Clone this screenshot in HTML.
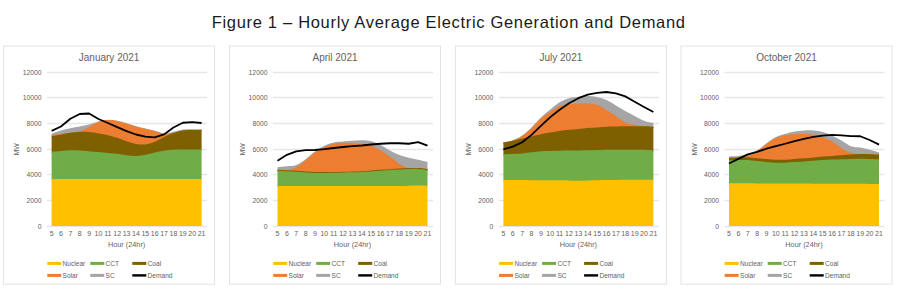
<!DOCTYPE html><html><head><meta charset="utf-8"><title>Figure 1</title><style>html,body{margin:0;padding:0;background:#fff;width:900px;height:300px;overflow:hidden}svg{display:block}text{font-family:"Liberation Sans", sans-serif}</style></head><body>
<svg width="900" height="300" viewBox="0 0 900 300">
<text x="448.7" y="27.8" font-size="16.5" letter-spacing="0.69" fill="#1a1a1a" text-anchor="middle">Figure 1 – Hourly Average Electric Generation and Demand</text>
<g>
<rect x="3.6" y="46" width="211" height="238.2" fill="#fff" stroke="#E3E3E3" stroke-width="1"/>
<text x="109.1" y="60.7" font-size="10" fill="#5f5f5f" text-anchor="middle">January 2021</text>
<line x1="47.1" y1="226.5" x2="207.1" y2="226.5" stroke="#E6E6E6" stroke-width="1.5"/>
<text x="41.6" y="228.6" font-size="6.8" fill="#5f5f5f" text-anchor="end">0</text>
<line x1="47.1" y1="200.5" x2="207.1" y2="200.5" stroke="#E6E6E6" stroke-width="1.5"/>
<text x="41.6" y="202.6" font-size="6.8" fill="#5f5f5f" text-anchor="end">2000</text>
<line x1="47.1" y1="174.5" x2="207.1" y2="174.5" stroke="#E6E6E6" stroke-width="1.5"/>
<text x="41.6" y="176.6" font-size="6.8" fill="#5f5f5f" text-anchor="end">4000</text>
<line x1="47.1" y1="149.5" x2="207.1" y2="149.5" stroke="#E6E6E6" stroke-width="1.5"/>
<text x="41.6" y="151.6" font-size="6.8" fill="#5f5f5f" text-anchor="end">6000</text>
<line x1="47.1" y1="123.5" x2="207.1" y2="123.5" stroke="#E6E6E6" stroke-width="1.5"/>
<text x="41.6" y="125.6" font-size="6.8" fill="#5f5f5f" text-anchor="end">8000</text>
<line x1="47.1" y1="97.5" x2="207.1" y2="97.5" stroke="#E6E6E6" stroke-width="1.5"/>
<text x="41.6" y="99.6" font-size="6.8" fill="#5f5f5f" text-anchor="end">10000</text>
<line x1="47.1" y1="72.5" x2="207.1" y2="72.5" stroke="#E6E6E6" stroke-width="1.5"/>
<text x="41.6" y="74.6" font-size="6.8" fill="#5f5f5f" text-anchor="end">12000</text>
<path d="M51.6,133.9 C53.16,133.34 57.85,131.51 60.98,130.57 C64.1,129.63 67.22,128.95 70.35,128.27 C73.47,127.59 76.6,127.1 79.72,126.48 C82.85,125.86 85.97,125.39 89.1,124.56 C92.22,123.73 95.35,122.29 98.47,121.49 C101.6,120.69 104.72,119.87 107.85,119.75 C110.97,119.63 114.1,120.17 117.22,120.75 C120.35,121.33 123.47,122.33 126.6,123.24 C129.72,124.16 132.85,125.37 135.97,126.25 C139.1,127.13 142.22,127.76 145.35,128.52 C148.47,129.29 151.6,130.02 154.72,130.83 C157.85,131.64 160.97,133.22 164.1,133.39 C167.22,133.56 170.35,132.49 173.47,131.85 C176.6,131.21 179.72,130 182.85,129.55 C185.97,129.1 189.1,129.21 192.22,129.16 C195.35,129.12 200.04,129.27 201.6,129.29 L201.6,131.23 C200.04,131.23 195.35,131.15 192.22,131.23 C189.1,131.32 185.97,131.27 182.85,131.76 C179.72,132.25 176.6,133.63 173.47,134.19 C170.35,134.75 167.22,135.42 164.1,135.1 C160.97,134.78 157.85,133.14 154.72,132.28 C151.6,131.43 148.47,130.74 145.35,129.98 C142.22,129.22 139.1,128.58 135.97,127.7 C132.85,126.82 129.72,125.61 126.6,124.7 C123.47,123.78 120.35,122.79 117.22,122.2 C114.1,121.62 110.97,121.04 107.85,121.21 C104.72,121.37 101.6,122.03 98.47,123.2 C95.35,124.37 92.22,126.6 89.1,128.2 C85.97,129.8 82.85,131.85 79.72,132.8 C76.6,133.74 73.47,133.44 70.35,133.84 C67.22,134.25 64.1,134.79 60.98,135.23 C57.85,135.66 53.16,136.24 51.6,136.44 Z" fill="#A5A5A5"/>
<path d="M51.6,135.24 C53.16,135.04 57.85,134.46 60.98,134.03 C64.1,133.59 67.22,133.05 70.35,132.64 C73.47,132.24 76.6,132.54 79.72,131.6 C82.85,130.65 85.97,128.6 89.1,127 C92.22,125.4 95.35,123.17 98.47,122 C101.6,120.83 104.72,120.17 107.85,120.01 C110.97,119.84 114.1,120.42 117.22,121 C120.35,121.59 123.47,122.58 126.6,123.5 C129.72,124.41 132.85,125.62 135.97,126.5 C139.1,127.38 142.22,128.02 145.35,128.78 C148.47,129.54 151.6,130.23 154.72,131.08 C157.85,131.94 160.97,133.58 164.1,133.9 C167.22,134.22 170.35,133.55 173.47,132.99 C176.6,132.43 179.72,131.05 182.85,130.56 C185.97,130.07 189.1,130.12 192.22,130.03 C195.35,129.95 200.04,130.03 201.6,130.03 L201.6,131.23 C200.04,131.23 195.35,131.15 192.22,131.23 C189.1,131.32 185.97,131.27 182.85,131.76 C179.72,132.25 176.6,133.12 173.47,134.19 C170.35,135.26 167.22,136.72 164.1,138.17 C160.97,139.61 157.85,141.62 154.72,142.86 C151.6,144.11 148.47,145.26 145.35,145.64 C142.22,146.01 139.1,145.63 135.97,145.11 C132.85,144.59 129.72,143.53 126.6,142.52 C123.47,141.5 120.35,140.05 117.22,139.04 C114.1,138.02 110.97,137.16 107.85,136.44 C104.72,135.72 101.6,135.23 98.47,134.71 C95.35,134.19 92.22,133.61 89.1,133.32 C85.97,133.03 82.85,132.85 79.72,132.97 C76.6,133.1 73.47,133.61 70.35,134.07 C67.22,134.53 64.1,135.18 60.98,135.74 C57.85,136.29 53.16,137.12 51.6,137.4 Z" fill="#ED7D31"/>
<path d="M51.6,136.2 C53.16,135.92 57.85,135.09 60.98,134.54 C64.1,133.98 67.22,133.33 70.35,132.87 C73.47,132.41 76.6,131.9 79.72,131.77 C82.85,131.65 85.97,131.83 89.1,132.12 C92.22,132.41 95.35,132.99 98.47,133.51 C101.6,134.03 104.72,134.52 107.85,135.24 C110.97,135.96 114.1,136.82 117.22,137.84 C120.35,138.85 123.47,140.3 126.6,141.32 C129.72,142.33 132.85,143.39 135.97,143.91 C139.1,144.43 142.22,144.81 145.35,144.44 C148.47,144.06 151.6,142.91 154.72,141.66 C157.85,140.42 160.97,138.41 164.1,136.97 C167.22,135.52 170.35,134.06 173.47,132.99 C176.6,131.92 179.72,131.05 182.85,130.56 C185.97,130.07 189.1,130.12 192.22,130.03 C195.35,129.95 200.04,130.03 201.6,130.03 L201.6,150.67 C200.04,150.67 195.35,150.67 192.22,150.67 C189.1,150.67 185.97,150.61 182.85,150.67 C179.72,150.72 176.6,150.81 173.47,151.01 C170.35,151.21 167.22,151.45 164.1,151.88 C160.97,152.31 157.85,152.94 154.72,153.61 C151.6,154.27 148.47,155.29 145.35,155.87 C142.22,156.45 139.1,157 135.97,157.09 C132.85,157.17 129.72,156.73 126.6,156.38 C123.47,156.04 120.35,155.37 117.22,155 C114.1,154.63 110.97,154.45 107.85,154.16 C104.72,153.87 101.6,153.56 98.47,153.26 C95.35,152.96 92.22,152.62 89.1,152.37 C85.97,152.11 82.85,151.87 79.72,151.73 C76.6,151.59 73.47,151.45 70.35,151.54 C67.22,151.62 64.1,152.01 60.98,152.24 C57.85,152.47 53.16,152.8 51.6,152.92 Z" fill="#7F6000"/>
<path d="M51.6,151.72 C53.16,151.6 57.85,151.27 60.98,151.04 C64.1,150.81 67.22,150.42 70.35,150.34 C73.47,150.25 76.6,150.39 79.72,150.53 C82.85,150.67 85.97,150.91 89.1,151.17 C92.22,151.42 95.35,151.76 98.47,152.06 C101.6,152.36 104.72,152.67 107.85,152.96 C110.97,153.25 114.1,153.43 117.22,153.8 C120.35,154.17 123.47,154.84 126.6,155.18 C129.72,155.53 132.85,155.97 135.97,155.89 C139.1,155.8 142.22,155.25 145.35,154.67 C148.47,154.09 151.6,153.07 154.72,152.41 C157.85,151.74 160.97,151.11 164.1,150.68 C167.22,150.25 170.35,150.01 173.47,149.81 C176.6,149.61 179.72,149.52 182.85,149.47 C185.97,149.41 189.1,149.47 192.22,149.47 C195.35,149.47 200.04,149.47 201.6,149.47 L201.6,180.13 C200.04,180.13 195.35,180.13 192.22,180.13 C189.1,180.13 185.97,180.13 182.85,180.13 C179.72,180.13 176.6,180.13 173.47,180.13 C170.35,180.13 167.22,180.13 164.1,180.13 C160.97,180.13 157.85,180.13 154.72,180.13 C151.6,180.13 148.47,180.13 145.35,180.13 C142.22,180.13 139.1,180.13 135.97,180.13 C132.85,180.13 129.72,180.13 126.6,180.13 C123.47,180.13 120.35,180.13 117.22,180.13 C114.1,180.13 110.97,180.13 107.85,180.13 C104.72,180.13 101.6,180.13 98.47,180.13 C95.35,180.13 92.22,180.13 89.1,180.13 C85.97,180.13 82.85,180.13 79.72,180.13 C76.6,180.13 73.47,180.13 70.35,180.13 C67.22,180.13 64.1,180.13 60.98,180.13 C57.85,180.13 53.16,180.13 51.6,180.13 Z" fill="#70AD47"/>
<path d="M51.6,178.93 C53.16,178.93 57.85,178.93 60.98,178.93 C64.1,178.93 67.22,178.93 70.35,178.93 C73.47,178.93 76.6,178.93 79.72,178.93 C82.85,178.93 85.97,178.93 89.1,178.93 C92.22,178.93 95.35,178.93 98.47,178.93 C101.6,178.93 104.72,178.93 107.85,178.93 C110.97,178.93 114.1,178.93 117.22,178.93 C120.35,178.93 123.47,178.93 126.6,178.93 C129.72,178.93 132.85,178.93 135.97,178.93 C139.1,178.93 142.22,178.93 145.35,178.93 C148.47,178.93 151.6,178.93 154.72,178.93 C157.85,178.93 160.97,178.93 164.1,178.93 C167.22,178.93 170.35,178.93 173.47,178.93 C176.6,178.93 179.72,178.93 182.85,178.93 C185.97,178.93 189.1,178.93 192.22,178.93 C195.35,178.93 200.04,178.93 201.6,178.93 L201.6,226 L51.6,226 Z" fill="#FFC000"/>
<polyline points="51.6,130.83 60.98,126.48 70.35,118.8 79.72,114.01 89.1,113.49 98.47,119.01 107.85,123 117.22,127.19 126.6,131.2 135.97,134.5 145.35,136.62 154.72,137.33 164.1,134.37 173.47,127.44 182.85,122.76 192.22,122.13 201.6,123.02" fill="none" stroke="#000" stroke-width="1.8" stroke-linejoin="round"/>
<text x="51.6" y="235.8" font-size="7" fill="#5f5f5f" text-anchor="middle">5</text>
<text x="60.98" y="235.8" font-size="7" fill="#5f5f5f" text-anchor="middle">6</text>
<text x="70.35" y="235.8" font-size="7" fill="#5f5f5f" text-anchor="middle">7</text>
<text x="79.72" y="235.8" font-size="7" fill="#5f5f5f" text-anchor="middle">8</text>
<text x="89.1" y="235.8" font-size="7" fill="#5f5f5f" text-anchor="middle">9</text>
<text x="98.47" y="235.8" font-size="7" fill="#5f5f5f" text-anchor="middle">10</text>
<text x="107.85" y="235.8" font-size="7" fill="#5f5f5f" text-anchor="middle">11</text>
<text x="117.22" y="235.8" font-size="7" fill="#5f5f5f" text-anchor="middle">12</text>
<text x="126.6" y="235.8" font-size="7" fill="#5f5f5f" text-anchor="middle">13</text>
<text x="135.97" y="235.8" font-size="7" fill="#5f5f5f" text-anchor="middle">14</text>
<text x="145.35" y="235.8" font-size="7" fill="#5f5f5f" text-anchor="middle">15</text>
<text x="154.72" y="235.8" font-size="7" fill="#5f5f5f" text-anchor="middle">16</text>
<text x="164.1" y="235.8" font-size="7" fill="#5f5f5f" text-anchor="middle">17</text>
<text x="173.47" y="235.8" font-size="7" fill="#5f5f5f" text-anchor="middle">18</text>
<text x="182.85" y="235.8" font-size="7" fill="#5f5f5f" text-anchor="middle">19</text>
<text x="192.22" y="235.8" font-size="7" fill="#5f5f5f" text-anchor="middle">20</text>
<text x="201.6" y="235.8" font-size="7" fill="#5f5f5f" text-anchor="middle">21</text>
<text x="126.6" y="246.8" font-size="7.3" fill="#5f5f5f" text-anchor="middle">Hour (24hr)</text>
<text transform="translate(16.8,149.4) rotate(-90)" font-size="6.9" fill="#5f5f5f" text-anchor="middle" dy="2.6">MW</text>
<rect x="47.3" y="261.9" width="14" height="3" fill="#FFC000"/>
<text x="62.6" y="265.65" font-size="6.6" fill="#5f5f5f">Nuclear</text>
<rect x="90.3" y="261.9" width="14" height="3" fill="#70AD47"/>
<text x="105.6" y="265.65" font-size="6.6" fill="#5f5f5f">CCT</text>
<rect x="132.3" y="261.9" width="14" height="3" fill="#7F6000"/>
<text x="147.6" y="265.65" font-size="6.6" fill="#5f5f5f">Coal</text>
<rect x="47.3" y="273.9" width="14" height="3" fill="#ED7D31"/>
<text x="62.6" y="277.65" font-size="6.6" fill="#5f5f5f">Solar</text>
<rect x="90.3" y="273.9" width="14" height="3" fill="#A5A5A5"/>
<text x="105.6" y="277.65" font-size="6.6" fill="#5f5f5f">SC</text>
<rect x="132.3" y="274.2" width="14" height="2.4" fill="#000000"/>
<text x="147.6" y="277.65" font-size="6.6" fill="#5f5f5f">Demand</text>
</g>
<g>
<rect x="229.5" y="46" width="211" height="238.2" fill="#fff" stroke="#E3E3E3" stroke-width="1"/>
<text x="335" y="60.7" font-size="10" fill="#5f5f5f" text-anchor="middle">April 2021</text>
<line x1="273" y1="226.5" x2="433" y2="226.5" stroke="#E6E6E6" stroke-width="1.5"/>
<text x="267.5" y="228.6" font-size="6.8" fill="#5f5f5f" text-anchor="end">0</text>
<line x1="273" y1="200.5" x2="433" y2="200.5" stroke="#E6E6E6" stroke-width="1.5"/>
<text x="267.5" y="202.6" font-size="6.8" fill="#5f5f5f" text-anchor="end">2000</text>
<line x1="273" y1="174.5" x2="433" y2="174.5" stroke="#E6E6E6" stroke-width="1.5"/>
<text x="267.5" y="176.6" font-size="6.8" fill="#5f5f5f" text-anchor="end">4000</text>
<line x1="273" y1="149.5" x2="433" y2="149.5" stroke="#E6E6E6" stroke-width="1.5"/>
<text x="267.5" y="151.6" font-size="6.8" fill="#5f5f5f" text-anchor="end">6000</text>
<line x1="273" y1="123.5" x2="433" y2="123.5" stroke="#E6E6E6" stroke-width="1.5"/>
<text x="267.5" y="125.6" font-size="6.8" fill="#5f5f5f" text-anchor="end">8000</text>
<line x1="273" y1="97.5" x2="433" y2="97.5" stroke="#E6E6E6" stroke-width="1.5"/>
<text x="267.5" y="99.6" font-size="6.8" fill="#5f5f5f" text-anchor="end">10000</text>
<line x1="273" y1="72.5" x2="433" y2="72.5" stroke="#E6E6E6" stroke-width="1.5"/>
<text x="267.5" y="74.6" font-size="6.8" fill="#5f5f5f" text-anchor="end">12000</text>
<path d="M277.5,167.2 C279.06,167.05 283.75,166.65 286.88,166.3 C290,165.95 293.12,166.29 296.25,165.11 C299.38,163.93 302.5,161.49 305.62,159.23 C308.75,156.97 311.88,153.81 315,151.55 C318.12,149.29 321.25,147.17 324.38,145.67 C327.5,144.16 330.62,143.2 333.75,142.51 C336.88,141.81 340,141.79 343.12,141.5 C346.25,141.2 349.38,140.94 352.5,140.74 C355.62,140.54 358.75,140.22 361.88,140.29 C365,140.37 368.12,140.4 371.25,141.19 C374.38,141.97 377.5,143.45 380.62,145 C383.75,146.55 386.88,148.83 390,150.5 C393.12,152.17 396.25,153.79 399.38,155 C402.5,156.22 405.62,156.99 408.75,157.79 C411.88,158.59 415,159.1 418.12,159.8 C421.25,160.5 425.94,161.63 427.5,162 L427.5,170.29 C425.94,170.12 421.25,169.42 418.12,169.25 C415,169.08 411.88,169.93 408.75,169.25 C405.62,168.58 402.5,167.12 399.38,165.2 C396.25,163.27 393.12,159.95 390,157.7 C386.88,155.45 383.75,153.54 380.62,151.7 C377.5,149.87 374.38,147.75 371.25,146.7 C368.12,145.65 365,145.77 361.88,145.4 C358.75,145.02 355.62,144.67 352.5,144.44 C349.38,144.2 346.25,143.91 343.12,144 C340,144.09 336.88,144.35 333.75,145 C330.62,145.65 327.5,146.43 324.38,147.89 C321.25,149.35 318.12,151.47 315,153.77 C311.88,156.08 308.75,159.27 305.62,161.7 C302.5,164.14 299.38,166.72 296.25,168.36 C293.12,169.99 290,171.07 286.88,171.5 C283.75,171.94 279.06,171.07 277.5,170.98 Z" fill="#A5A5A5"/>
<path d="M277.5,169.78 C279.06,169.87 283.75,170.74 286.88,170.3 C290,169.87 293.12,168.79 296.25,167.16 C299.38,165.52 302.5,162.94 305.62,160.5 C308.75,158.07 311.88,154.88 315,152.57 C318.12,150.27 321.25,148.15 324.38,146.69 C327.5,145.23 330.62,144.45 333.75,143.8 C336.88,143.15 340,142.89 343.12,142.8 C346.25,142.71 349.38,143 352.5,143.24 C355.62,143.47 358.75,143.82 361.88,144.2 C365,144.57 368.12,144.45 371.25,145.5 C374.38,146.55 377.5,148.67 380.62,150.5 C383.75,152.34 386.88,154.25 390,156.5 C393.12,158.75 396.25,162.07 399.38,164 C402.5,165.92 405.62,167.38 408.75,168.05 C411.88,168.73 415,167.88 418.12,168.05 C421.25,168.22 425.94,168.92 427.5,169.09 L427.5,170.29 C425.94,170.12 421.25,169.42 418.12,169.25 C415,169.08 411.88,169.17 408.75,169.25 C405.62,169.34 402.5,169.57 399.38,169.76 C396.25,169.96 393.12,170.2 390,170.4 C386.88,170.61 383.75,170.77 380.62,170.98 C377.5,171.19 374.38,171.45 371.25,171.68 C368.12,171.92 365,172.21 361.88,172.37 C358.75,172.53 355.62,172.55 352.5,172.64 C349.38,172.73 346.25,172.81 343.12,172.9 C340,172.98 336.88,173.1 333.75,173.15 C330.62,173.21 327.5,173.23 324.38,173.24 C321.25,173.26 318.12,173.33 315,173.24 C311.88,173.16 308.75,172.92 305.62,172.72 C302.5,172.52 299.38,172.27 296.25,172.07 C293.12,171.86 290,171.68 286.88,171.5 C283.75,171.32 279.06,171.07 277.5,170.98 Z" fill="#ED7D31"/>
<path d="M277.5,169.78 C279.06,169.87 283.75,170.12 286.88,170.3 C290,170.48 293.12,170.66 296.25,170.87 C299.38,171.07 302.5,171.32 305.62,171.52 C308.75,171.72 311.88,171.96 315,172.04 C318.12,172.13 321.25,172.06 324.38,172.04 C327.5,172.03 330.62,172.01 333.75,171.95 C336.88,171.9 340,171.78 343.12,171.7 C346.25,171.61 349.38,171.53 352.5,171.44 C355.62,171.35 358.75,171.33 361.88,171.17 C365,171.01 368.12,170.72 371.25,170.48 C374.38,170.25 377.5,169.99 380.62,169.78 C383.75,169.57 386.88,169.41 390,169.2 C393.12,169 396.25,168.76 399.38,168.56 C402.5,168.37 405.62,168.14 408.75,168.05 C411.88,167.97 415,167.88 418.12,168.05 C421.25,168.22 425.94,168.92 427.5,169.09 L427.5,171.18 C425.94,171.01 421.25,170.32 418.12,170.15 C415,169.97 411.88,170.06 408.75,170.15 C405.62,170.23 402.5,170.47 399.38,170.66 C396.25,170.85 393.12,171.1 390,171.3 C386.88,171.5 383.75,171.66 380.62,171.87 C377.5,172.09 374.38,172.35 371.25,172.58 C368.12,172.81 365,173.11 361.88,173.27 C358.75,173.43 355.62,173.45 352.5,173.54 C349.38,173.62 346.25,173.71 343.12,173.79 C340,173.88 336.88,173.99 333.75,174.05 C330.62,174.11 327.5,174.12 324.38,174.14 C321.25,174.15 318.12,174.23 315,174.14 C311.88,174.05 308.75,173.81 305.62,173.61 C302.5,173.42 299.38,173.16 296.25,172.96 C293.12,172.76 290,172.58 286.88,172.4 C283.75,172.22 279.06,171.96 277.5,171.87 Z" fill="#7F6000"/>
<path d="M277.5,170.67 C279.06,170.76 283.75,171.02 286.88,171.2 C290,171.38 293.12,171.56 296.25,171.76 C299.38,171.96 302.5,172.22 305.62,172.41 C308.75,172.61 311.88,172.85 315,172.94 C318.12,173.03 321.25,172.95 324.38,172.94 C327.5,172.92 330.62,172.91 333.75,172.85 C336.88,172.79 340,172.68 343.12,172.59 C346.25,172.51 349.38,172.42 352.5,172.34 C355.62,172.25 358.75,172.23 361.88,172.07 C365,171.91 368.12,171.61 371.25,171.38 C374.38,171.15 377.5,170.89 380.62,170.67 C383.75,170.46 386.88,170.3 390,170.1 C393.12,169.9 396.25,169.65 399.38,169.46 C402.5,169.27 405.62,169.03 408.75,168.95 C411.88,168.86 415,168.77 418.12,168.95 C421.25,169.12 425.94,169.81 427.5,169.98 L427.5,186.65 C425.94,186.65 421.25,186.61 418.12,186.65 C415,186.69 411.88,186.82 408.75,186.91 C405.62,186.99 402.5,187.12 399.38,187.16 C396.25,187.2 393.12,187.16 390,187.16 C386.88,187.16 383.75,187.16 380.62,187.16 C377.5,187.16 374.38,187.16 371.25,187.16 C368.12,187.16 365,187.16 361.88,187.16 C358.75,187.16 355.62,187.16 352.5,187.16 C349.38,187.16 346.25,187.16 343.12,187.16 C340,187.16 336.88,187.16 333.75,187.16 C330.62,187.16 327.5,187.16 324.38,187.16 C321.25,187.16 318.12,187.16 315,187.16 C311.88,187.16 308.75,187.16 305.62,187.16 C302.5,187.16 299.38,187.16 296.25,187.16 C293.12,187.16 290,187.16 286.88,187.16 C283.75,187.16 279.06,187.16 277.5,187.16 Z" fill="#70AD47"/>
<path d="M277.5,185.96 C279.06,185.96 283.75,185.96 286.88,185.96 C290,185.96 293.12,185.96 296.25,185.96 C299.38,185.96 302.5,185.96 305.62,185.96 C308.75,185.96 311.88,185.96 315,185.96 C318.12,185.96 321.25,185.96 324.38,185.96 C327.5,185.96 330.62,185.96 333.75,185.96 C336.88,185.96 340,185.96 343.12,185.96 C346.25,185.96 349.38,185.96 352.5,185.96 C355.62,185.96 358.75,185.96 361.88,185.96 C365,185.96 368.12,185.96 371.25,185.96 C374.38,185.96 377.5,185.96 380.62,185.96 C383.75,185.96 386.88,185.96 390,185.96 C393.12,185.96 396.25,186 399.38,185.96 C402.5,185.92 405.62,185.79 408.75,185.71 C411.88,185.62 415,185.49 418.12,185.45 C421.25,185.41 425.94,185.45 427.5,185.45 L427.5,226 L277.5,226 Z" fill="#FFC000"/>
<polyline points="277.5,160.8 286.88,154.8 296.25,151.29 305.62,150.19 315,150 324.38,149.2 333.75,147.99 343.12,147 352.5,146.18 361.88,145.5 371.25,144.5 380.62,143.75 390,143.24 399.38,143.24 408.75,143.75 418.12,142.08 427.5,145.67" fill="none" stroke="#000" stroke-width="1.8" stroke-linejoin="round"/>
<text x="277.5" y="235.8" font-size="7" fill="#5f5f5f" text-anchor="middle">5</text>
<text x="286.88" y="235.8" font-size="7" fill="#5f5f5f" text-anchor="middle">6</text>
<text x="296.25" y="235.8" font-size="7" fill="#5f5f5f" text-anchor="middle">7</text>
<text x="305.62" y="235.8" font-size="7" fill="#5f5f5f" text-anchor="middle">8</text>
<text x="315" y="235.8" font-size="7" fill="#5f5f5f" text-anchor="middle">9</text>
<text x="324.38" y="235.8" font-size="7" fill="#5f5f5f" text-anchor="middle">10</text>
<text x="333.75" y="235.8" font-size="7" fill="#5f5f5f" text-anchor="middle">11</text>
<text x="343.12" y="235.8" font-size="7" fill="#5f5f5f" text-anchor="middle">12</text>
<text x="352.5" y="235.8" font-size="7" fill="#5f5f5f" text-anchor="middle">13</text>
<text x="361.88" y="235.8" font-size="7" fill="#5f5f5f" text-anchor="middle">14</text>
<text x="371.25" y="235.8" font-size="7" fill="#5f5f5f" text-anchor="middle">15</text>
<text x="380.62" y="235.8" font-size="7" fill="#5f5f5f" text-anchor="middle">16</text>
<text x="390" y="235.8" font-size="7" fill="#5f5f5f" text-anchor="middle">17</text>
<text x="399.38" y="235.8" font-size="7" fill="#5f5f5f" text-anchor="middle">18</text>
<text x="408.75" y="235.8" font-size="7" fill="#5f5f5f" text-anchor="middle">19</text>
<text x="418.12" y="235.8" font-size="7" fill="#5f5f5f" text-anchor="middle">20</text>
<text x="427.5" y="235.8" font-size="7" fill="#5f5f5f" text-anchor="middle">21</text>
<text x="352.5" y="246.8" font-size="7.3" fill="#5f5f5f" text-anchor="middle">Hour (24hr)</text>
<text transform="translate(242.7,149.4) rotate(-90)" font-size="6.9" fill="#5f5f5f" text-anchor="middle" dy="2.6">MW</text>
<rect x="273.2" y="261.9" width="14" height="3" fill="#FFC000"/>
<text x="288.5" y="265.65" font-size="6.6" fill="#5f5f5f">Nuclear</text>
<rect x="316.2" y="261.9" width="14" height="3" fill="#70AD47"/>
<text x="331.5" y="265.65" font-size="6.6" fill="#5f5f5f">CCT</text>
<rect x="358.2" y="261.9" width="14" height="3" fill="#7F6000"/>
<text x="373.5" y="265.65" font-size="6.6" fill="#5f5f5f">Coal</text>
<rect x="273.2" y="273.9" width="14" height="3" fill="#ED7D31"/>
<text x="288.5" y="277.65" font-size="6.6" fill="#5f5f5f">Solar</text>
<rect x="316.2" y="273.9" width="14" height="3" fill="#A5A5A5"/>
<text x="331.5" y="277.65" font-size="6.6" fill="#5f5f5f">SC</text>
<rect x="358.2" y="274.2" width="14" height="2.4" fill="#000000"/>
<text x="373.5" y="277.65" font-size="6.6" fill="#5f5f5f">Demand</text>
</g>
<g>
<rect x="455.4" y="46" width="211" height="238.2" fill="#fff" stroke="#E3E3E3" stroke-width="1"/>
<text x="560.9" y="60.7" font-size="10" fill="#5f5f5f" text-anchor="middle">July 2021</text>
<line x1="498.9" y1="226.5" x2="658.9" y2="226.5" stroke="#E6E6E6" stroke-width="1.5"/>
<text x="493.4" y="228.6" font-size="6.8" fill="#5f5f5f" text-anchor="end">0</text>
<line x1="498.9" y1="200.5" x2="658.9" y2="200.5" stroke="#E6E6E6" stroke-width="1.5"/>
<text x="493.4" y="202.6" font-size="6.8" fill="#5f5f5f" text-anchor="end">2000</text>
<line x1="498.9" y1="174.5" x2="658.9" y2="174.5" stroke="#E6E6E6" stroke-width="1.5"/>
<text x="493.4" y="176.6" font-size="6.8" fill="#5f5f5f" text-anchor="end">4000</text>
<line x1="498.9" y1="149.5" x2="658.9" y2="149.5" stroke="#E6E6E6" stroke-width="1.5"/>
<text x="493.4" y="151.6" font-size="6.8" fill="#5f5f5f" text-anchor="end">6000</text>
<line x1="498.9" y1="123.5" x2="658.9" y2="123.5" stroke="#E6E6E6" stroke-width="1.5"/>
<text x="493.4" y="125.6" font-size="6.8" fill="#5f5f5f" text-anchor="end">8000</text>
<line x1="498.9" y1="97.5" x2="658.9" y2="97.5" stroke="#E6E6E6" stroke-width="1.5"/>
<text x="493.4" y="99.6" font-size="6.8" fill="#5f5f5f" text-anchor="end">10000</text>
<line x1="498.9" y1="72.5" x2="658.9" y2="72.5" stroke="#E6E6E6" stroke-width="1.5"/>
<text x="493.4" y="74.6" font-size="6.8" fill="#5f5f5f" text-anchor="end">12000</text>
<path d="M503.4,142.08 C504.96,141.76 509.65,141.27 512.77,140.17 C515.9,139.06 519.02,137.54 522.15,135.43 C525.27,133.32 528.4,130.49 531.52,127.5 C534.65,124.52 537.77,120.52 540.9,117.52 C544.02,114.52 547.15,112.06 550.27,109.5 C553.4,106.95 556.52,104.08 559.65,102.2 C562.77,100.31 565.9,99.09 569.02,98.2 C572.15,97.3 575.27,97.17 578.4,96.8 C581.52,96.43 584.65,95.96 587.77,95.99 C590.9,96.03 594.02,96.33 597.15,96.99 C600.27,97.66 603.4,98.58 606.52,100 C609.65,101.42 612.77,103.67 615.9,105.5 C619.02,107.33 622.15,109.25 625.27,111 C628.4,112.75 631.52,114.37 634.65,116 C637.77,117.63 640.9,119.62 644.02,120.8 C647.15,121.98 651.84,122.69 653.4,123.06 L653.4,128.07 C651.84,127.99 647.15,127.9 644.02,127.55 C640.9,127.2 637.77,126.65 634.65,125.99 C631.52,125.33 628.4,125.05 625.27,123.58 C622.15,122.12 619.02,119.27 615.9,117.2 C612.77,115.14 609.65,113.07 606.52,111.2 C603.4,109.33 600.27,107.13 597.15,106 C594.02,104.86 590.9,104.61 587.77,104.4 C584.65,104.18 581.52,104.56 578.4,104.69 C575.27,104.83 572.15,104.78 569.02,105.2 C565.9,105.62 562.77,105.87 559.65,107.2 C556.52,108.53 553.4,111.11 550.27,113.2 C547.15,115.29 544.02,117.05 540.9,119.75 C537.77,122.45 534.65,126.51 531.52,129.41 C528.4,132.3 525.27,135.07 522.15,137.14 C519.02,139.21 515.9,140.72 512.77,141.83 C509.65,142.93 504.96,143.46 503.4,143.78 Z" fill="#A5A5A5"/>
<path d="M503.4,142.58 C504.96,142.26 509.65,141.73 512.77,140.63 C515.9,139.52 519.02,138.01 522.15,135.94 C525.27,133.87 528.4,131.1 531.52,128.21 C534.65,125.31 537.77,121.25 540.9,118.55 C544.02,115.85 547.15,114.09 550.27,112 C553.4,109.91 556.52,107.33 559.65,106 C562.77,104.67 565.9,104.42 569.02,104 C572.15,103.58 575.27,103.63 578.4,103.49 C581.52,103.36 584.65,102.98 587.77,103.2 C590.9,103.41 594.02,103.66 597.15,104.8 C600.27,105.93 603.4,108.13 606.52,110 C609.65,111.87 612.77,113.94 615.9,116 C619.02,118.07 622.15,120.92 625.27,122.38 C628.4,123.85 631.52,124.13 634.65,124.79 C637.77,125.45 640.9,126 644.02,126.35 C647.15,126.7 651.84,126.79 653.4,126.87 L653.4,128.07 C651.84,127.99 647.15,127.64 644.02,127.55 C640.9,127.46 637.77,127.55 634.65,127.55 C631.52,127.55 628.4,127.51 625.27,127.55 C622.15,127.59 619.02,127.72 615.9,127.81 C612.77,127.89 609.65,127.93 606.52,128.07 C603.4,128.22 600.27,128.5 597.15,128.7 C594.02,128.9 590.9,129.06 587.77,129.29 C584.65,129.52 581.52,129.82 578.4,130.11 C575.27,130.4 572.15,130.69 569.02,131.03 C565.9,131.37 562.77,131.69 559.65,132.16 C556.52,132.62 553.4,133.28 550.27,133.82 C547.15,134.36 544.02,134.81 540.9,135.4 C537.77,136 534.65,136.69 531.52,137.41 C528.4,138.14 525.27,139.03 522.15,139.77 C519.02,140.5 515.9,141.16 512.77,141.83 C509.65,142.5 504.96,143.46 503.4,143.78 Z" fill="#ED7D31"/>
<path d="M503.4,142.58 C504.96,142.26 509.65,141.3 512.77,140.63 C515.9,139.96 519.02,139.3 522.15,138.57 C525.27,137.83 528.4,136.94 531.52,136.21 C534.65,135.49 537.77,134.8 540.9,134.2 C544.02,133.61 547.15,133.16 550.27,132.62 C553.4,132.08 556.52,131.42 559.65,130.96 C562.77,130.49 565.9,130.17 569.02,129.83 C572.15,129.49 575.27,129.2 578.4,128.91 C581.52,128.62 584.65,128.32 587.77,128.09 C590.9,127.86 594.02,127.7 597.15,127.5 C600.27,127.3 603.4,127.02 606.52,126.87 C609.65,126.73 612.77,126.69 615.9,126.61 C619.02,126.52 622.15,126.39 625.27,126.35 C628.4,126.31 631.52,126.35 634.65,126.35 C637.77,126.35 640.9,126.26 644.02,126.35 C647.15,126.44 651.84,126.79 653.4,126.87 L653.4,151.64 C651.84,151.52 647.15,151.05 644.02,150.93 C640.9,150.82 637.77,150.93 634.65,150.93 C631.52,150.93 628.4,150.93 625.27,150.93 C622.15,150.93 619.02,150.93 615.9,150.93 C612.77,150.93 609.65,150.89 606.52,150.93 C603.4,150.98 600.27,151.13 597.15,151.22 C594.02,151.31 590.9,151.4 587.77,151.47 C584.65,151.54 581.52,151.6 578.4,151.64 C575.27,151.68 572.15,151.69 569.02,151.73 C565.9,151.76 562.77,151.79 559.65,151.86 C556.52,151.92 553.4,152.03 550.27,152.11 C547.15,152.19 544.02,152.09 540.9,152.33 C537.77,152.56 534.65,153.13 531.52,153.52 C528.4,153.91 525.27,154.39 522.15,154.67 C519.02,154.95 515.9,155.03 512.77,155.18 C509.65,155.34 504.96,155.53 503.4,155.6 Z" fill="#7F6000"/>
<path d="M503.4,154.4 C504.96,154.33 509.65,154.14 512.77,153.98 C515.9,153.83 519.02,153.75 522.15,153.47 C525.27,153.19 528.4,152.71 531.52,152.32 C534.65,151.93 537.77,151.36 540.9,151.13 C544.02,150.89 547.15,150.99 550.27,150.91 C553.4,150.83 556.52,150.72 559.65,150.66 C562.77,150.59 565.9,150.56 569.02,150.53 C572.15,150.49 575.27,150.48 578.4,150.44 C581.52,150.4 584.65,150.34 587.77,150.27 C590.9,150.2 594.02,150.11 597.15,150.02 C600.27,149.93 603.4,149.78 606.52,149.73 C609.65,149.69 612.77,149.73 615.9,149.73 C619.02,149.73 622.15,149.73 625.27,149.73 C628.4,149.73 631.52,149.73 634.65,149.73 C637.77,149.73 640.9,149.62 644.02,149.73 C647.15,149.85 651.84,150.32 653.4,150.44 L653.4,180.83 C651.84,180.83 647.15,180.82 644.02,180.83 C640.9,180.84 637.77,180.86 634.65,180.89 C631.52,180.92 628.4,180.98 625.27,181.02 C622.15,181.06 619.02,181.11 615.9,181.15 C612.77,181.19 609.65,181.23 606.52,181.28 C603.4,181.32 600.27,181.34 597.15,181.4 C594.02,181.47 590.9,181.56 587.77,181.66 C584.65,181.76 581.52,182.01 578.4,182.01 C575.27,182.01 572.15,181.74 569.02,181.66 C565.9,181.58 562.77,181.56 559.65,181.53 C556.52,181.5 553.4,181.49 550.27,181.47 C547.15,181.45 544.02,181.43 540.9,181.4 C537.77,181.38 534.65,181.36 531.52,181.34 C528.4,181.32 525.27,181.29 522.15,181.28 C519.02,181.27 515.9,181.28 512.77,181.28 C509.65,181.28 504.96,181.28 503.4,181.28 Z" fill="#70AD47"/>
<path d="M503.4,180.08 C504.96,180.08 509.65,180.08 512.77,180.08 C515.9,180.08 519.02,180.07 522.15,180.08 C525.27,180.09 528.4,180.12 531.52,180.14 C534.65,180.16 537.77,180.18 540.9,180.2 C544.02,180.23 547.15,180.25 550.27,180.27 C553.4,180.29 556.52,180.3 559.65,180.33 C562.77,180.36 565.9,180.38 569.02,180.46 C572.15,180.54 575.27,180.81 578.4,180.81 C581.52,180.81 584.65,180.56 587.77,180.46 C590.9,180.36 594.02,180.27 597.15,180.2 C600.27,180.14 603.4,180.12 606.52,180.08 C609.65,180.03 612.77,179.99 615.9,179.95 C619.02,179.91 622.15,179.86 625.27,179.82 C628.4,179.78 631.52,179.72 634.65,179.69 C637.77,179.66 640.9,179.64 644.02,179.63 C647.15,179.62 651.84,179.63 653.4,179.63 L653.4,226 L503.4,226 Z" fill="#FFC000"/>
<polyline points="503.4,149.29 512.77,146.63 522.15,142.21 531.52,134.88 540.9,125.84 550.27,117.14 559.65,109.8 569.02,103.2 578.4,98.2 587.77,94.65 597.15,92.8 606.52,92 615.9,93.35 625.27,96.35 634.65,101.8 644.02,107 653.4,112" fill="none" stroke="#000" stroke-width="1.8" stroke-linejoin="round"/>
<text x="503.4" y="235.8" font-size="7" fill="#5f5f5f" text-anchor="middle">5</text>
<text x="512.77" y="235.8" font-size="7" fill="#5f5f5f" text-anchor="middle">6</text>
<text x="522.15" y="235.8" font-size="7" fill="#5f5f5f" text-anchor="middle">7</text>
<text x="531.52" y="235.8" font-size="7" fill="#5f5f5f" text-anchor="middle">8</text>
<text x="540.9" y="235.8" font-size="7" fill="#5f5f5f" text-anchor="middle">9</text>
<text x="550.27" y="235.8" font-size="7" fill="#5f5f5f" text-anchor="middle">10</text>
<text x="559.65" y="235.8" font-size="7" fill="#5f5f5f" text-anchor="middle">11</text>
<text x="569.02" y="235.8" font-size="7" fill="#5f5f5f" text-anchor="middle">12</text>
<text x="578.4" y="235.8" font-size="7" fill="#5f5f5f" text-anchor="middle">13</text>
<text x="587.77" y="235.8" font-size="7" fill="#5f5f5f" text-anchor="middle">14</text>
<text x="597.15" y="235.8" font-size="7" fill="#5f5f5f" text-anchor="middle">15</text>
<text x="606.52" y="235.8" font-size="7" fill="#5f5f5f" text-anchor="middle">16</text>
<text x="615.9" y="235.8" font-size="7" fill="#5f5f5f" text-anchor="middle">17</text>
<text x="625.27" y="235.8" font-size="7" fill="#5f5f5f" text-anchor="middle">18</text>
<text x="634.65" y="235.8" font-size="7" fill="#5f5f5f" text-anchor="middle">19</text>
<text x="644.02" y="235.8" font-size="7" fill="#5f5f5f" text-anchor="middle">20</text>
<text x="653.4" y="235.8" font-size="7" fill="#5f5f5f" text-anchor="middle">21</text>
<text x="578.4" y="246.8" font-size="7.3" fill="#5f5f5f" text-anchor="middle">Hour (24hr)</text>
<text transform="translate(468.6,149.4) rotate(-90)" font-size="6.9" fill="#5f5f5f" text-anchor="middle" dy="2.6">MW</text>
<rect x="499.1" y="261.9" width="14" height="3" fill="#FFC000"/>
<text x="514.4" y="265.65" font-size="6.6" fill="#5f5f5f">Nuclear</text>
<rect x="542.1" y="261.9" width="14" height="3" fill="#70AD47"/>
<text x="557.4" y="265.65" font-size="6.6" fill="#5f5f5f">CCT</text>
<rect x="584.1" y="261.9" width="14" height="3" fill="#7F6000"/>
<text x="599.4" y="265.65" font-size="6.6" fill="#5f5f5f">Coal</text>
<rect x="499.1" y="273.9" width="14" height="3" fill="#ED7D31"/>
<text x="514.4" y="277.65" font-size="6.6" fill="#5f5f5f">Solar</text>
<rect x="542.1" y="273.9" width="14" height="3" fill="#A5A5A5"/>
<text x="557.4" y="277.65" font-size="6.6" fill="#5f5f5f">SC</text>
<rect x="584.1" y="274.2" width="14" height="2.4" fill="#000000"/>
<text x="599.4" y="277.65" font-size="6.6" fill="#5f5f5f">Demand</text>
</g>
<g>
<rect x="681" y="46" width="211" height="238.2" fill="#fff" stroke="#E3E3E3" stroke-width="1"/>
<text x="786.5" y="60.7" font-size="10" fill="#5f5f5f" text-anchor="middle">October 2021</text>
<line x1="724.5" y1="226.5" x2="884.5" y2="226.5" stroke="#E6E6E6" stroke-width="1.5"/>
<text x="719" y="228.6" font-size="6.8" fill="#5f5f5f" text-anchor="end">0</text>
<line x1="724.5" y1="200.5" x2="884.5" y2="200.5" stroke="#E6E6E6" stroke-width="1.5"/>
<text x="719" y="202.6" font-size="6.8" fill="#5f5f5f" text-anchor="end">2000</text>
<line x1="724.5" y1="174.5" x2="884.5" y2="174.5" stroke="#E6E6E6" stroke-width="1.5"/>
<text x="719" y="176.6" font-size="6.8" fill="#5f5f5f" text-anchor="end">4000</text>
<line x1="724.5" y1="149.5" x2="884.5" y2="149.5" stroke="#E6E6E6" stroke-width="1.5"/>
<text x="719" y="151.6" font-size="6.8" fill="#5f5f5f" text-anchor="end">6000</text>
<line x1="724.5" y1="123.5" x2="884.5" y2="123.5" stroke="#E6E6E6" stroke-width="1.5"/>
<text x="719" y="125.6" font-size="6.8" fill="#5f5f5f" text-anchor="end">8000</text>
<line x1="724.5" y1="97.5" x2="884.5" y2="97.5" stroke="#E6E6E6" stroke-width="1.5"/>
<text x="719" y="99.6" font-size="6.8" fill="#5f5f5f" text-anchor="end">10000</text>
<line x1="724.5" y1="72.5" x2="884.5" y2="72.5" stroke="#E6E6E6" stroke-width="1.5"/>
<text x="719" y="74.6" font-size="6.8" fill="#5f5f5f" text-anchor="end">12000</text>
<path d="M729,156.41 C730.56,156.33 735.25,156.2 738.38,155.9 C741.5,155.6 744.62,155.56 747.75,154.62 C750.88,153.68 754,152.17 757.12,150.27 C760.25,148.37 763.38,145.45 766.5,143.24 C769.62,141.02 772.75,138.5 775.88,136.97 C779,135.43 782.12,134.92 785.25,134.03 C788.38,133.13 791.5,132.19 794.62,131.6 C797.75,131 800.88,130.64 804,130.44 C807.12,130.25 810.25,130.17 813.38,130.44 C816.5,130.72 819.62,131.23 822.75,132.11 C825.88,132.98 829,134.28 832.12,135.69 C835.25,137.1 838.38,138.8 841.5,140.55 C844.62,142.3 847.75,145 850.88,146.17 C854,147.33 857.12,146.97 860.25,147.55 C863.38,148.12 866.5,148.85 869.62,149.63 C872.75,150.41 877.44,151.81 879,152.24 L879,155.69 C877.44,155.65 872.75,155.52 869.62,155.44 C866.5,155.35 863.38,155.43 860.25,155.18 C857.12,154.94 854,154.98 850.88,153.97 C847.75,152.95 844.62,150.97 841.5,149.1 C838.38,147.24 835.25,144.53 832.12,142.77 C829,141.01 825.88,139.68 822.75,138.55 C819.62,137.42 816.5,136.55 813.38,135.99 C810.25,135.44 807.12,135.33 804,135.23 C800.88,135.12 797.75,135.16 794.62,135.35 C791.5,135.55 788.38,135.72 785.25,136.38 C782.12,137.04 779,137.83 775.88,139.32 C772.75,140.81 769.62,143.16 766.5,145.33 C763.38,147.51 760.25,150.38 757.12,152.37 C754,154.35 750.88,156.18 747.75,157.23 C744.62,158.27 741.5,158.36 738.38,158.63 C735.25,158.91 730.56,158.85 729,158.89 Z" fill="#A5A5A5"/>
<path d="M729,157.69 C730.56,157.65 735.25,157.71 738.38,157.43 C741.5,157.16 744.62,157.07 747.75,156.03 C750.88,154.98 754,153.15 757.12,151.17 C760.25,149.18 763.38,146.31 766.5,144.13 C769.62,141.96 772.75,139.61 775.88,138.12 C779,136.63 782.12,135.84 785.25,135.18 C788.38,134.52 791.5,134.35 794.62,134.15 C797.75,133.96 800.88,133.92 804,134.03 C807.12,134.13 810.25,134.24 813.38,134.79 C816.5,135.35 819.62,136.22 822.75,137.35 C825.88,138.48 829,139.81 832.12,141.57 C835.25,143.33 838.38,146.04 841.5,147.9 C844.62,149.77 847.75,151.75 850.88,152.77 C854,153.78 857.12,153.74 860.25,153.98 C863.38,154.23 866.5,154.15 869.62,154.24 C872.75,154.32 877.44,154.45 879,154.49 L879,155.69 C877.44,155.65 872.75,155.52 869.62,155.44 C866.5,155.35 863.38,155.12 860.25,155.18 C857.12,155.24 854,155.58 850.88,155.78 C847.75,155.98 844.62,156.16 841.5,156.38 C838.38,156.6 835.25,156.87 832.12,157.1 C829,157.33 825.88,157.52 822.75,157.78 C819.62,158.03 816.5,158.34 813.38,158.63 C810.25,158.92 807.12,159.26 804,159.52 C800.88,159.78 797.75,159.98 794.62,160.21 C791.5,160.44 788.38,160.78 785.25,160.9 C782.12,161.02 779,161.04 775.88,160.94 C772.75,160.84 769.62,160.55 766.5,160.3 C763.38,160.04 760.25,159.7 757.12,159.4 C754,159.1 750.88,158.63 747.75,158.51 C744.62,158.38 741.5,158.57 738.38,158.63 C735.25,158.7 730.56,158.85 729,158.89 Z" fill="#ED7D31"/>
<path d="M729,157.69 C730.56,157.65 735.25,157.5 738.38,157.43 C741.5,157.37 744.62,157.18 747.75,157.31 C750.88,157.43 754,157.9 757.12,158.2 C760.25,158.5 763.38,158.84 766.5,159.1 C769.62,159.35 772.75,159.64 775.88,159.74 C779,159.84 782.12,159.82 785.25,159.7 C788.38,159.58 791.5,159.24 794.62,159.01 C797.75,158.78 800.88,158.58 804,158.32 C807.12,158.06 810.25,157.72 813.38,157.43 C816.5,157.14 819.62,156.83 822.75,156.58 C825.88,156.32 829,156.13 832.12,155.9 C835.25,155.67 838.38,155.4 841.5,155.18 C844.62,154.96 847.75,154.78 850.88,154.58 C854,154.38 857.12,154.04 860.25,153.98 C863.38,153.92 866.5,154.15 869.62,154.24 C872.75,154.32 877.44,154.45 879,154.49 L879,160.39 C877.44,160.34 872.75,160.19 869.62,160.11 C866.5,160.02 863.38,159.86 860.25,159.86 C857.12,159.86 854,160.02 850.88,160.11 C847.75,160.19 844.62,160.27 841.5,160.39 C838.38,160.5 835.25,160.67 832.12,160.81 C829,160.95 825.88,161.05 822.75,161.24 C819.62,161.44 816.5,161.73 813.38,161.96 C810.25,162.19 807.12,162.43 804,162.64 C800.88,162.85 797.75,163.04 794.62,163.24 C791.5,163.44 788.38,163.74 785.25,163.85 C782.12,163.96 779,164.01 775.88,163.91 C772.75,163.8 769.62,163.49 766.5,163.2 C763.38,162.92 760.25,162.52 757.12,162.2 C754,161.89 750.88,161.49 747.75,161.32 C744.62,161.15 741.5,161.16 738.38,161.19 C735.25,161.22 730.56,161.45 729,161.5 Z" fill="#7F6000"/>
<path d="M729,160.3 C730.56,160.25 735.25,160.02 738.38,159.99 C741.5,159.96 744.62,159.95 747.75,160.12 C750.88,160.29 754,160.69 757.12,161 C760.25,161.32 763.38,161.72 766.5,162 C769.62,162.29 772.75,162.6 775.88,162.71 C779,162.81 782.12,162.76 785.25,162.65 C788.38,162.54 791.5,162.24 794.62,162.04 C797.75,161.84 800.88,161.65 804,161.44 C807.12,161.23 810.25,160.99 813.38,160.76 C816.5,160.53 819.62,160.24 822.75,160.04 C825.88,159.85 829,159.75 832.12,159.61 C835.25,159.47 838.38,159.3 841.5,159.19 C844.62,159.07 847.75,158.99 850.88,158.91 C854,158.82 857.12,158.66 860.25,158.66 C863.38,158.66 866.5,158.82 869.62,158.91 C872.75,158.99 877.44,159.14 879,159.19 L879,185.11 C877.44,185.11 872.75,185.09 869.62,185.08 C866.5,185.06 863.38,185.05 860.25,185.04 C857.12,185.02 854,185.01 850.88,185 C847.75,184.99 844.62,184.98 841.5,184.96 C838.38,184.95 835.25,184.92 832.12,184.91 C829,184.89 825.88,184.88 822.75,184.87 C819.62,184.86 816.5,184.85 813.38,184.83 C810.25,184.82 807.12,184.81 804,184.79 C800.88,184.78 797.75,184.77 794.62,184.76 C791.5,184.74 788.38,184.73 785.25,184.72 C782.12,184.7 779,184.69 775.88,184.68 C772.75,184.66 769.62,184.64 766.5,184.63 C763.38,184.61 760.25,184.6 757.12,184.59 C754,184.58 750.88,184.56 747.75,184.55 C744.62,184.54 741.5,184.53 738.38,184.51 C735.25,184.5 730.56,184.48 729,184.47 Z" fill="#70AD47"/>
<path d="M729,183.27 C730.56,183.28 735.25,183.3 738.38,183.31 C741.5,183.33 744.62,183.34 747.75,183.35 C750.88,183.36 754,183.38 757.12,183.39 C760.25,183.4 763.38,183.41 766.5,183.43 C769.62,183.44 772.75,183.46 775.88,183.48 C779,183.49 782.12,183.5 785.25,183.52 C788.38,183.53 791.5,183.54 794.62,183.56 C797.75,183.57 800.88,183.58 804,183.59 C807.12,183.61 810.25,183.62 813.38,183.63 C816.5,183.65 819.62,183.66 822.75,183.67 C825.88,183.68 829,183.69 832.12,183.71 C835.25,183.72 838.38,183.75 841.5,183.76 C844.62,183.78 847.75,183.79 850.88,183.8 C854,183.81 857.12,183.82 860.25,183.84 C863.38,183.85 866.5,183.86 869.62,183.88 C872.75,183.89 877.44,183.91 879,183.91 L879,226 L729,226 Z" fill="#FFC000"/>
<polyline points="729,163.45 738.38,158.84 747.75,154.36 757.12,151.81 766.5,148.74 775.88,146.18 785.25,143.75 794.62,141.19 804,138.89 813.38,136.84 822.75,135.56 832.12,134.79 841.5,135.3 850.88,136.2 860.25,136.26 869.62,140.04 879,144.59" fill="none" stroke="#000" stroke-width="1.8" stroke-linejoin="round"/>
<text x="729" y="235.8" font-size="7" fill="#5f5f5f" text-anchor="middle">5</text>
<text x="738.38" y="235.8" font-size="7" fill="#5f5f5f" text-anchor="middle">6</text>
<text x="747.75" y="235.8" font-size="7" fill="#5f5f5f" text-anchor="middle">7</text>
<text x="757.12" y="235.8" font-size="7" fill="#5f5f5f" text-anchor="middle">8</text>
<text x="766.5" y="235.8" font-size="7" fill="#5f5f5f" text-anchor="middle">9</text>
<text x="775.88" y="235.8" font-size="7" fill="#5f5f5f" text-anchor="middle">10</text>
<text x="785.25" y="235.8" font-size="7" fill="#5f5f5f" text-anchor="middle">11</text>
<text x="794.62" y="235.8" font-size="7" fill="#5f5f5f" text-anchor="middle">12</text>
<text x="804" y="235.8" font-size="7" fill="#5f5f5f" text-anchor="middle">13</text>
<text x="813.38" y="235.8" font-size="7" fill="#5f5f5f" text-anchor="middle">14</text>
<text x="822.75" y="235.8" font-size="7" fill="#5f5f5f" text-anchor="middle">15</text>
<text x="832.12" y="235.8" font-size="7" fill="#5f5f5f" text-anchor="middle">16</text>
<text x="841.5" y="235.8" font-size="7" fill="#5f5f5f" text-anchor="middle">17</text>
<text x="850.88" y="235.8" font-size="7" fill="#5f5f5f" text-anchor="middle">18</text>
<text x="860.25" y="235.8" font-size="7" fill="#5f5f5f" text-anchor="middle">19</text>
<text x="869.62" y="235.8" font-size="7" fill="#5f5f5f" text-anchor="middle">20</text>
<text x="879" y="235.8" font-size="7" fill="#5f5f5f" text-anchor="middle">21</text>
<text x="804" y="246.8" font-size="7.3" fill="#5f5f5f" text-anchor="middle">Hour (24hr)</text>
<text transform="translate(694.2,149.4) rotate(-90)" font-size="6.9" fill="#5f5f5f" text-anchor="middle" dy="2.6">MW</text>
<rect x="724.7" y="261.9" width="14" height="3" fill="#FFC000"/>
<text x="740" y="265.65" font-size="6.6" fill="#5f5f5f">Nuclear</text>
<rect x="767.7" y="261.9" width="14" height="3" fill="#70AD47"/>
<text x="783" y="265.65" font-size="6.6" fill="#5f5f5f">CCT</text>
<rect x="809.7" y="261.9" width="14" height="3" fill="#7F6000"/>
<text x="825" y="265.65" font-size="6.6" fill="#5f5f5f">Coal</text>
<rect x="724.7" y="273.9" width="14" height="3" fill="#ED7D31"/>
<text x="740" y="277.65" font-size="6.6" fill="#5f5f5f">Solar</text>
<rect x="767.7" y="273.9" width="14" height="3" fill="#A5A5A5"/>
<text x="783" y="277.65" font-size="6.6" fill="#5f5f5f">SC</text>
<rect x="809.7" y="274.2" width="14" height="2.4" fill="#000000"/>
<text x="825" y="277.65" font-size="6.6" fill="#5f5f5f">Demand</text>
</g>
</svg></body></html>
